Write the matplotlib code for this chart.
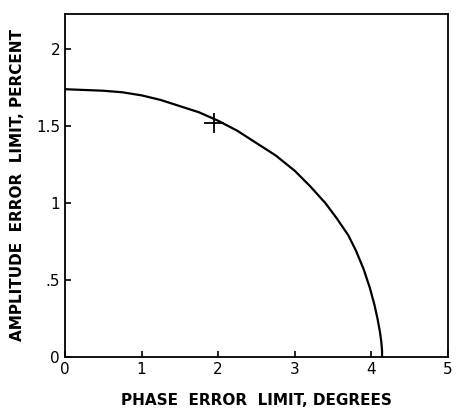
import matplotlib.pyplot as plt

# values
phase = [0.0, 0.25, 0.5, 0.75, 1.0, 1.25, 1.5, 1.75, 2.0, 2.25, 2.5, 2.75, 3.0, 3.2,
         3.4, 3.55, 3.7, 3.8, 3.9, 3.98, 4.04, 4.08, 4.11, 4.13, 4.14, 4.14]
amplitude = [1.74, 1.735, 1.73, 1.72, 1.70, 1.67, 1.63, 1.59, 1.535, 1.47, 1.39, 1.31, 1.21,
             1.11, 1.00, 0.90, 0.79, 0.69, 0.57, 0.45, 0.34, 0.25, 0.17, 0.10, 0.04, 0.0]
marker_pt = (1.95, 1.52)

xticks = [0, 1, 2, 3, 4, 5]
xlabels = ['0', '1', '2', '3', '4', '5']
yticks = [0, 0.5, 1, 1.5, 2]
ylabels = ['0', '.5', '1', '1.5', '2']

fig = plt.figure(figsize=(4.74, 4.18), dpi=100)
ax = fig.add_axes([0.137, 0.146, 0.808, 0.821])
ax.plot(phase, amplitude, color='black', lw=1.6)
ax.plot(*marker_pt, marker='+', color='black', ms=14, mew=1.3)

ax.set_xlim(0, 5)
ax.set_ylim(0, 2.23)
ax.set_xticks(xticks, xlabels)
ax.set_yticks(yticks, ylabels)
ax.tick_params(direction='in', length=4, labelsize=11, width=1.2)
for s in ax.spines.values():
    s.set_linewidth(1.3)
ax.set_xlabel('PHASE  ERROR  LIMIT, DEGREES', fontsize=11, fontweight='bold', labelpad=12)
ax.set_ylabel('AMPLITUDE  ERROR  LIMIT, PERCENT', fontsize=11, fontweight='bold', labelpad=8)

fig.savefig('out.png', dpi=100)
